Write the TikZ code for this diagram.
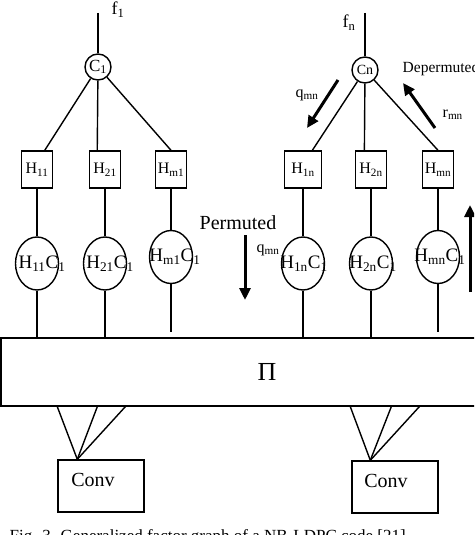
\documentclass[tikz,border=0pt]{standalone}
\usepackage{fontspec}
\setmainfont{Liberation Serif}
\usepackage{tikz}
\usetikzlibrary{shapes.geometric,arrows.meta}

\begin{document}
\begin{tikzpicture}[x=1pt,y=-1pt,line width=1.4pt,
	chk/.style={circle,draw,inner sep=0pt,minimum size=26pt,font=\fontsize{17}{17}\selectfont},
	hbox/.style={rectangle,draw,inner sep=0pt,minimum width=31pt,minimum height=37pt,font=\fontsize{16}{16}\selectfont},
	hc/.style={ellipse,draw,inner sep=0pt,minimum width=43pt,minimum height=53pt},
	hctext/.style={inner sep=0pt,font=\fontsize{19}{19}\selectfont},
	convbox/.style={rectangle,draw,inner sep=0pt,minimum width=86pt,minimum height=52pt},
	convtext/.style={inner sep=0pt,font=\fontsize{20}{20}\selectfont},
	msg/.style={line width=3pt,-{Triangle[length=12pt,width=11pt]}},
	lbl/.style={inner sep=0pt,font=\fontsize{16}{16}\selectfont}]
		\useasboundingbox (0, 0) rectangle (474, 535);
		\clip (0, 0) rectangle (474, 535);
		% check nodes
		\node[chk] (C1) at (98, 67) {C\textsubscript{1}};
		\node[chk, font=\fontsize{14}{14}\selectfont] (Cn) at (365, 70) {Cn};
		\coordinate (f1) at (98, 13);
		\coordinate (fn) at (365, 13);
		\draw (f1) -- (C1);
		\draw (fn) -- (Cn);
		\node[lbl, font=\fontsize{18}{18}\selectfont, anchor=base west] (f1label) at (111, 15) {f\textsubscript{1}};
		\node[lbl, font=\fontsize{18}{18}\selectfont, anchor=base west] (fnlabel) at (342, 28) {f\textsubscript{n}};
		% H boxes
		\node[hbox] (H11) at (37, 169.5) {H\textsubscript{11}};
		\node[hbox] (H21) at (105, 169.5) {H\textsubscript{21}};
		\node[hbox] (Hm1) at (171, 169.5) {H\textsubscript{m1}};
		\node[hbox, minimum width=37pt] (H1n) at (303, 169.5) {H\textsubscript{1n}};
		\node[hbox] (H2n) at (371, 169.5) {H\textsubscript{2n}};
		\node[hbox] (Hmn) at (438, 169.5) {H\textsubscript{mn}};
		\draw (C1) -- (H11.68);
		\draw (C1) -- (H21.112);
		\draw (C1) -- (Hm1.north);
		\draw (Cn) -- (H1n.64);
		\draw (Cn) -- (H2n.109);
		\draw (Cn) -- (Hmn.north);
		% ellipses
		\node[hc, label={[hctext, xshift=5pt]center:H\textsubscript{11}C\textsubscript{1}}] (H11C1) at (37, 263.5) {};
		\node[hc, label={[hctext, xshift=5pt]center:H\textsubscript{21}C\textsubscript{1}}] (H21C1) at (105, 263.5) {};
		\node[hc, label={[hctext, xshift=4pt]center:H\textsubscript{m1}C\textsubscript{1}}] (Hm1C1) at (171, 257) {};
		\node[hc, label={[hctext, xshift=1pt]center:H\textsubscript{1n}C\textsubscript{1}}] (H1nC1) at (303, 263.5) {};
		\node[hc, label={[hctext, xshift=2pt]center:H\textsubscript{2n}C\textsubscript{1}}] (H2nC1) at (371, 263.5) {};
		\node[hc, label={[hctext, xshift=2pt]center:H\textsubscript{mn}C\textsubscript{1}}] (HmnC1) at (438, 257) {};
		\draw (H11) -- (H11C1);
		\draw (H21) -- (H21C1);
		\draw (Hm1) -- (Hm1C1);
		\draw (H1n) -- (H1nC1);
		\draw (H2n) -- (H2nC1);
		\draw (Hmn) -- (HmnC1);
		% interleaver
		\node[draw, rectangle, inner sep=0pt, minimum width=532pt, minimum height=68pt, font=\fontsize{26}{26}\selectfont] (perm) at (267, 372) {Π};
		\draw (H11C1) -- (H11C1 |- perm.north);
		\draw (H21C1) -- (H21C1 |- perm.north);
		\draw (Hm1C1) -- ([yshift=5pt]Hm1C1 |- perm.north);
		\draw (H1nC1) -- (H1nC1 |- perm.north);
		\draw (H2nC1) -- (H2nC1 |- perm.north);
		\draw (HmnC1) -- ([yshift=5pt]HmnC1 |- perm.north);
		% conv boxes
		\node[convbox, label={[convtext, xshift=-8pt, yshift=6pt]center:Conv}] (convL) at (101, 486) {};
		\node[convbox, label={[convtext, xshift=-9pt, yshift=6pt]center:Conv}] (convR) at (395, 487) {};
		\foreach \s in {57, 97, 125}
			\draw ([xshift=20pt]convL.north west) -- ([xshift=\s pt]perm.south west);
		\foreach \s in {350, 391, 419}
			\draw ([xshift=19pt]convR.north west) -- ([xshift=\s pt]perm.south west);
		% messages
		\coordinate (qs) at (338, 80);
		\coordinate (qe) at (307, 128);
		\coordinate (rs) at (435, 128);
		\coordinate (re) at (403, 83);
		\coordinate (ps) at (245, 235);
		\coordinate (pe) at (245, 300);
		\coordinate (us) at (470, 292);
		\coordinate (ue) at (470, 205);
		\draw[msg] (qs) -- (qe);
		\draw[msg] (rs) -- (re);
		\draw[msg] (ps) -- (pe);
		\draw[msg] (us) -- (ue);
		\node[lbl, anchor=base west] (qtop) at (295, 97) {q\textsubscript{mn}};
		\node[lbl, font=\fontsize{15.5}{15.5}\selectfont, anchor=base west] (deperm) at (402, 73) {Depermuted};
		\node[lbl, anchor=base west] (rtop) at (442, 117) {r\textsubscript{mn}};
		\node[lbl, font=\fontsize{20}{20}\selectfont, anchor=base west] (permlabel) at (199, 229) {Permuted};
		\node[lbl, anchor=base west] (qlow) at (256, 252) {q\textsubscript{mn}};
		% caption
		\node[lbl, font=\fontsize{17}{17}\selectfont, anchor=base west] (caption) at (9, 541) {Fig. 3. Generalized factor graph of a NB-LDPC code [21]};
	\end{tikzpicture}
\end{document}
